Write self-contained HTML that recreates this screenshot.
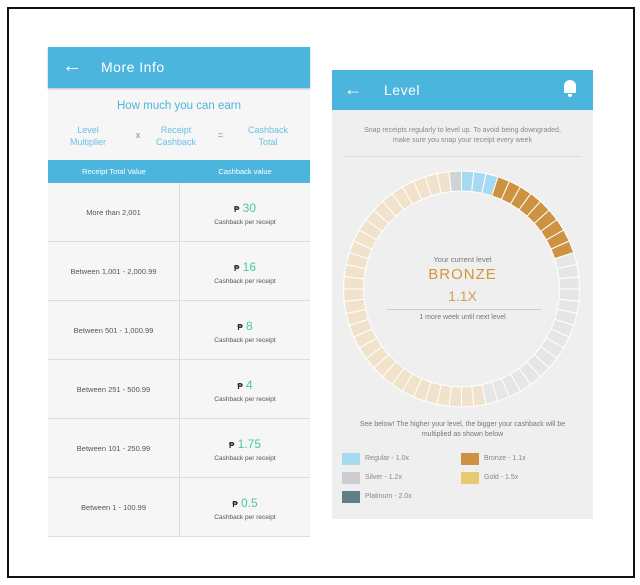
<!DOCTYPE html>
<html><head><meta charset="utf-8"><style>
body{margin:0;width:640px;height:585px;background:#fff;position:relative;font-family:"Liberation Sans",sans-serif;overflow:hidden}
.frame{position:absolute;left:7px;top:7px;width:624px;height:567px;border:2px solid #111;box-sizing:content-box}
.abs{position:absolute}
.hdr{background:#4bb5dd;color:#fff}
.c{text-align:center}
</style></head><body>
<div class="frame"></div>
<!-- left panel -->
<div class="abs" style="left:48px;top:47px;width:262px;height:490px;background:#f6f6f6">
 <div class="abs hdr" style="left:0;top:0;width:262px;height:41px;box-shadow:0 1px 2px #bbb">
  <div class="abs" style="left:14px;top:8px;font-size:20px">&#8592;</div>
  <div class="abs" style="left:53px;top:12px;font-size:14px;letter-spacing:0.5px">More Info</div>
 </div>
 <div class="abs c" style="left:0;top:53px;width:262px;font-size:11.5px;color:#4bb5dd">How much you can earn</div>
 <div class="abs c" style="left:10px;top:77px;width:60px;font-size:9px;color:#6cc0e3;line-height:12px">Level<br>Multiplier</div>
 <div class="abs c" style="left:80px;top:83px;width:20px;font-size:9px;color:#888">x</div>
 <div class="abs c" style="left:98px;top:77px;width:60px;font-size:9px;color:#6cc0e3;line-height:12px">Receipt<br>Cashback</div>
 <div class="abs c" style="left:165px;top:83px;width:15px;font-size:9px;color:#888">=</div>
 <div class="abs c" style="left:185px;top:77px;width:70px;font-size:9px;color:#6cc0e3;line-height:12px">Cashback<br>Total</div>
 <div class="abs hdr" style="left:0;top:113px;width:262px;height:23px;font-size:7.5px">
  <div class="abs c" style="left:0;top:7px;width:132px">Receipt Total Value</div>
  <div class="abs c" style="left:132px;top:7px;width:130px">Cashback value</div>
 </div>
 <div class="abs" style="left:131px;top:136px;width:1px;height:354px;background:#ddd"></div>
</div>
<div id="rows"></div>
<!-- right panel -->
<div class="abs" style="left:332px;top:70px;width:261px;height:449px;background:#efefef">
 <div class="abs hdr" style="left:0;top:0;width:261px;height:40px">
  <div class="abs" style="left:12px;top:9px;font-size:18px">&#8592;</div>
  <div class="abs" style="left:52px;top:12px;font-size:14px;letter-spacing:0.5px">Level</div>
  <div class="abs" style="left:232px;top:10px;width:12px;height:13px;background:#fff;border-radius:6px 6px 1px 1px"></div>
  <div class="abs" style="left:236px;top:24px;width:4px;height:3px;background:#fff;border-radius:0 0 2px 2px"></div>
 </div>
 <div class="abs c" style="left:0;top:56px;width:261px;font-size:7px;color:#888;line-height:10px">Snap receipts regularly to level up. To avoid being downgraded,<br>make sure you snap your receipt every week</div>
 <div class="abs" style="left:12px;top:86px;width:237px;height:1px;background:#ddd"></div>
 <svg class="abs" style="left:0;top:0" width="261" height="449" id="ring"></svg>
 <div class="abs c" style="left:0;top:185px;width:261px;font-size:7.5px;color:#777">Your current level</div>
 <div class="abs c" style="left:0;top:196px;width:261px;font-size:15px;color:#d4963c;letter-spacing:1px">BRONZE</div>
 <div class="abs c" style="left:0;top:218px;width:261px;font-size:14px;color:#d4a050">1.1X</div>
 <div class="abs" style="left:55px;top:239px;width:154px;height:1px;background:#ccc"></div>
 <div class="abs c" style="left:0;top:244px;width:261px;font-size:7px;color:#777">1 more week until next level</div>
 <div class="abs c" style="left:0;top:350px;width:261px;font-size:7px;color:#777;line-height:10px">See below! The higher your level, the bigger your cashback will be<br>multiplied as shown below</div>
 <div class="abs" style="left:10px;top:383px;width:18px;height:12px;background:#a6daf0"></div>
 <div class="abs" style="left:33px;top:385px;font-size:7px;color:#888">Regular - 1.0x</div>
 <div class="abs" style="left:129px;top:383px;width:18px;height:12px;background:#cd9342"></div>
 <div class="abs" style="left:152px;top:385px;font-size:7px;color:#888">Bronze - 1.1x</div>
 <div class="abs" style="left:10px;top:402px;width:18px;height:12px;background:#cdcdcf"></div>
 <div class="abs" style="left:33px;top:404px;font-size:7px;color:#888">Silver - 1.2x</div>
 <div class="abs" style="left:129px;top:402px;width:18px;height:12px;background:#e9c974"></div>
 <div class="abs" style="left:152px;top:404px;font-size:7px;color:#888">Gold - 1.5x</div>
 <div class="abs" style="left:10px;top:421px;width:18px;height:12px;background:#5f8185"></div>
 <div class="abs" style="left:33px;top:423px;font-size:7px;color:#888">Platinum - 2.0x</div>
</div>
<script>
var rows=[["More than 2,001","30"],["Between 1,001 - 2,000.99","16"],["Between 501 - 1,000.99","8"],["Between 251 - 500.99","4"],["Between 101 - 250.99","1.75"],["Between 1 - 100.99","0.5"]];
var h="";rows.forEach(function(r,i){var t=183+i*59;
h+='<div class="abs" style="left:48px;top:'+(t+58)+'px;width:262px;height:1px;background:#ddd"></div>';
h+='<div class="abs c" style="left:48px;top:'+(t+25)+'px;width:131px;font-size:7.5px;color:#555">'+r[0]+'</div>';
h+='<div class="abs c" style="left:180px;top:'+(t+18)+'px;width:130px;font-size:12px;color:#4cc79a"><span style="font-size:8px;color:#222;font-weight:bold">&#8369;</span> '+r[1]+'</div>';
h+='<div class="abs c" style="left:180px;top:'+(t+36)+'px;width:130px;font-size:6.5px;color:#555">Cashback per receipt</div>';});
document.getElementById('rows').innerHTML=h;
var s="",cx=129.5,cy=219,R=118,r=98,n=60;
function col(i){if(i==59)return"#d0d3d6";if(i<3)return"#a6daf0";if(i<12)return"#cd9342";if(i<28)return"#e6e6e6";return"#f0e2cb";}
for(var i=0;i<n;i++){var a0=(i*6)*Math.PI/180,a1=((i+1)*6)*Math.PI/180;
function p(rr,a){return(cx+rr*Math.sin(a)).toFixed(2)+","+(cy-rr*Math.cos(a)).toFixed(2);}
s+='<polygon points="'+p(R,a0)+' '+p(R,a1)+' '+p(r,a1)+' '+p(r,a0)+'" fill="'+col(i)+'" stroke="#fff" stroke-width="1"/>';}
document.getElementById('ring').innerHTML=s;
</script>
</body></html>
